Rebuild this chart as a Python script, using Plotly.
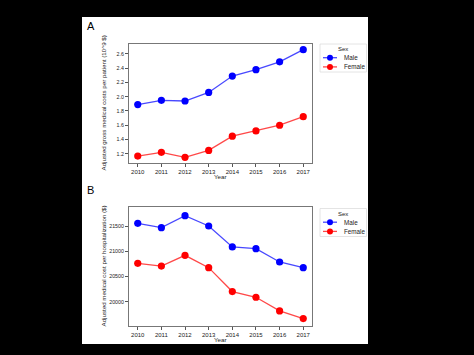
import plotly.graph_objects as go

years = [2010, 2011, 2012, 2013, 2014, 2015, 2016, 2017]
cost_per_patient_male = [1.89, 1.95, 1.94, 2.06, 2.29, 2.38, 2.49, 2.66]
cost_per_patient_female = [1.167, 1.22, 1.15, 1.247, 1.447, 1.52, 1.60, 1.72]
cost_per_hosp_male = [21553, 21467, 21705, 21500, 21086, 21053, 20789, 20677]
cost_per_hosp_female = [20762, 20709, 20921, 20677, 20205, 20092, 19822, 19670]
ticks_a = [1.2, 1.4, 1.6, 1.8, 2.0, 2.2, 2.4, 2.6]
ticks_b = [20000, 20500, 21000, 21500]
sex_labels = ["Male", "Female"]

W, H = 474, 355
BLUE = "#0000ff"
RED = "#ff0000"
BLUE_L = "rgba(40,40,255,0.85)"
RED_L = "rgba(255,40,40,0.85)"
FONT = "Liberation Sans, Arial, sans-serif"
TXT = "#222222"

fig = go.Figure()

def add(x, y, name, color, lcolor, xa, ya):
    fig.add_trace(go.Scatter(
        x=x, y=y, name=name, mode="lines+markers",
        line=dict(color=lcolor, width=1.3),
        marker=dict(color=color, size=7.2),
        xaxis=xa, yaxis=ya, showlegend=False))

add(years, cost_per_patient_male, sex_labels[0], BLUE, BLUE_L, "x", "y")
add(years, cost_per_patient_female, sex_labels[1], RED, RED_L, "x", "y")
add(years, cost_per_hosp_male, sex_labels[0], BLUE, BLUE_L, "x2", "y2")
add(years, cost_per_hosp_female, sex_labels[1], RED, RED_L, "x2", "y2")

px = lambda v: v / W
py = lambda v: 1 - v / H

axis_common = dict(showline=True, mirror=True, linecolor="#777777", linewidth=1,
                   ticks="outside", ticklen=3, tickcolor="#555555", tickwidth=0.8,
                   showgrid=False, zeroline=False)
xfont = dict(family=FONT, size=6.0, color=TXT)
yfont = dict(family=FONT, size=5.3, color=TXT)

shapes = [dict(type="rect", xref="paper", yref="paper", x0=px(82), x1=px(368),
               y0=py(344), y1=py(17), fillcolor="white", line=dict(width=0), layer="below")]
annotations = []

def ann(text, x, y, size=6.2, xanchor="center", angle=0, color=TXT):
    annotations.append(dict(text=text, x=px(x), y=py(y), xref="paper", yref="paper",
                            xanchor=xanchor, yanchor="middle", textangle=angle,
                            showarrow=False, font=dict(family=FONT, size=size, color=color)))

# legend boxes (drawn as decorations)
def legend_box(top):
    shapes.append(dict(type="rect", xref="paper", yref="paper", x0=px(320), x1=px(366.5),
                       y0=py(top + 28), y1=py(top), fillcolor="white",
                       line=dict(color="#dddddd", width=0.8)))
    ann("Sex", 343, top + 5.3, size=6.0)
    for i, (lab, col, lcol) in enumerate(zip(sex_labels, [BLUE, RED], [BLUE_L, RED_L])):
        yy = top + 13.7 + 9.2 * i
        shapes.append(dict(type="line", xref="paper", yref="paper", x0=px(323), x1=px(337),
                           y0=py(yy), y1=py(yy), line=dict(color=lcol, width=1.3)))
        shapes.append(dict(type="circle", xref="paper", yref="paper", x0=px(327), x1=px(333),
                           y0=py(yy + 3), y1=py(yy - 3), fillcolor=col, line=dict(width=0)))
        ann(lab, 341.5, yy, size=6.3, xanchor="left")

legend_box(44)
legend_box(208.5)

ann("A", 85, 26, size=11, xanchor="left", color="black")
ann("B", 85, 190, size=11, xanchor="left", color="black")
ann("Adjusted gross medical costs per patient (10^9 $)", 103, 103.5, angle=-90)
ann("Adjusted medical cost per hospitalization ($)", 103, 266.5, angle=-90)
ann("Year", 220.5, 176)
ann("Year", 220.5, 339)

xdom = [px(129), px(312)]
fig.update_layout(
    width=W, height=H,
    margin=dict(l=0, r=0, t=0, b=0, autoexpand=False),
    paper_bgcolor="black", plot_bgcolor="white",
    font=dict(family=FONT),
    showlegend=False,
    xaxis=dict(domain=xdom, anchor="y", range=[2009.63, 2017.37], tickvals=years,
               tickfont=xfont, **axis_common),
    yaxis=dict(domain=[py(163), py(44)], anchor="x", range=[1.07, 2.74], tickvals=ticks_a,
               tickformat=".1f", tickfont=yfont, **axis_common),
    xaxis2=dict(domain=xdom, anchor="y2", range=[2009.63, 2017.37], tickvals=years,
                tickfont=xfont, **axis_common),
    yaxis2=dict(domain=[py(326), py(207)], anchor="x2", range=[19524, 21876], tickvals=ticks_b,
                tickformat="d", tickfont=yfont, **axis_common),
    shapes=shapes,
    annotations=annotations,
)

fig.write_html("out.html", config={"displayModeBar": False},
               post_script="document.body.style.margin='0px';document.body.style.background='black';")
